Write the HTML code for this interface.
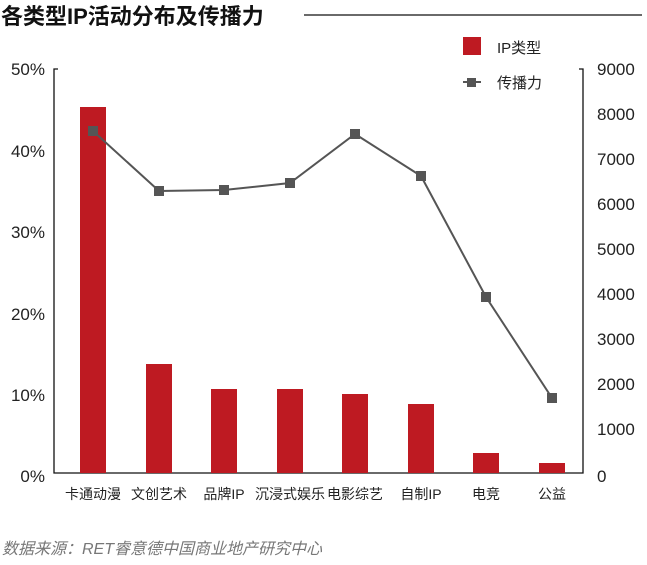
<!DOCTYPE html>
<html><head><meta charset="utf-8"><style>
body{margin:0;background:#fff;width:647px;height:560px;overflow:hidden;font-family:"Liberation Sans","Noto Sans CJK SC",sans-serif}
</style></head><body>
<svg width="647" height="560" xmlns="http://www.w3.org/2000/svg" font-family="Liberation Sans, Noto Sans CJK SC, sans-serif">
<text x="1" y="24" font-size="22" font-weight="bold" fill="#111">各类型IP活动分布及传播力</text>
<line x1="304" y1="15" x2="642" y2="15" stroke="#111" stroke-width="1.2"/>
<rect x="463" y="37" width="18" height="18" fill="#be1a22"/>
<text x="497" y="53" font-size="15" fill="#222">IP类型</text>
<line x1="463" y1="82" x2="481" y2="82" stroke="#555" stroke-width="2"/>
<rect x="467" y="78" width="9" height="9" fill="#555"/>
<text x="497" y="88" font-size="15" fill="#222">传播力</text>
<g stroke="#111" stroke-width="1.3" fill="none">
<polyline points="58,69 54,69 54,473 583,473 583,69 579,69"/>
</g>
<g font-size="17" fill="#222" text-anchor="end">
<text x="45" y="75">50%</text><text x="45" y="157">40%</text><text x="45" y="238">30%</text><text x="45" y="320">20%</text><text x="45" y="401">10%</text><text x="45" y="482">0%</text>
</g>
<g font-size="17" fill="#222" text-anchor="start">
<text x="597" y="75">9000</text><text x="597" y="120">8000</text><text x="597" y="165">7000</text><text x="597" y="210">6000</text><text x="597" y="255">5000</text><text x="597" y="300">4000</text><text x="597" y="345">3000</text><text x="597" y="390">2000</text><text x="597" y="435">1000</text><text x="597" y="482">0</text>
</g>
<g fill="#be1a22">
<rect x="80" y="107" width="26" height="366"/>
<rect x="146" y="364" width="26" height="109"/>
<rect x="211" y="389" width="26" height="84"/>
<rect x="277" y="389" width="26" height="84"/>
<rect x="342" y="394" width="26" height="79"/>
<rect x="408" y="404" width="26" height="69"/>
<rect x="473" y="453" width="26" height="20"/>
<rect x="539" y="463" width="26" height="10"/>
</g>
<polyline points="93,131 159,191 224,190 290,183 355,134 421,176 486,297 552,398" fill="none" stroke="#555" stroke-width="2"/>
<g fill="#555">
<rect x="88" y="126" width="10" height="10"/><rect x="154" y="186" width="10" height="10"/><rect x="219" y="185" width="10" height="10"/><rect x="285" y="178" width="10" height="10"/><rect x="350" y="129" width="10" height="10"/><rect x="416" y="171" width="10" height="10"/><rect x="481" y="292" width="10" height="10"/><rect x="547" y="393" width="10" height="10"/>
</g>
<g font-size="14" fill="#222" text-anchor="middle">
<text x="93" y="499">卡通动漫</text><text x="159" y="499">文创艺术</text><text x="224" y="499">品牌IP</text><text x="290" y="499">沉浸式娱乐</text><text x="355" y="499">电影综艺</text><text x="421" y="499">自制IP</text><text x="486" y="499">电竞</text><text x="552" y="499">公益</text>
</g>
<text x="2" y="554" font-size="16" font-style="italic" fill="#777">数据来源：RET睿意德中国商业地产研究中心</text>
</svg>
</body></html>
